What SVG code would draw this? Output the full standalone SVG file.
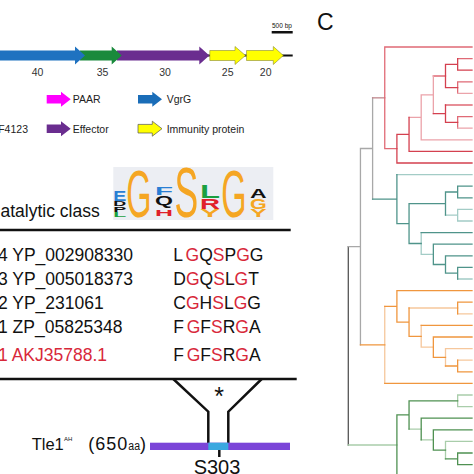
<svg xmlns="http://www.w3.org/2000/svg" width="474" height="474" viewBox="0 0 474 474">
<style>
text{font-family:"Liberation Sans",Arial,sans-serif;fill:#111}
.num{font-size:10.5px;fill:#333}
.leg{font-size:10.5px;fill:#222}
.big{font-size:17.5px}
.red{fill:#d8283a}
.lg{font-size:10px;font-weight:bold}
.lb{font-size:10px}
.tr path{fill:none;stroke-width:1.3;stroke-linecap:square}
.rd{stroke:#d4404f}.rm{stroke:#e06a76}.rl{stroke:#eba3aa}
.td{stroke:#4f948a}.tl{stroke:#a3ccc6}
.od{stroke:#f0963e}.ol{stroke:#f6c79c}
.gd{stroke:#4f9152}.gl{stroke:#a9cdaa}
.k1{stroke:#555}.k2{stroke:#a8a8a8}.km{stroke:#c0868c}
.blk{fill:none;stroke:#111;stroke-width:2.5}
</style>
<defs>
<path id="legArrow" d="M0,-4.3H14.3V-7.5L24,0L14.3,7.5V4.3H0Z"/>
</defs>

<g id="gene-map">
<path d="M205,55.5H292.7" stroke="#111" stroke-width="2"/>
<polygon points="117,50.5 199.3,50.5 199.3,46.5 209.3,55.5 199.3,64.5 199.3,60.5 117,60.5" fill="#6a2d8f"/>
<polygon points="80,50.5 111.7,50.5 111.7,46.5 121.7,55.5 111.7,64.5 111.7,60.5 80,60.5" fill="#1a8a3c"/>
<polygon points="0,50.5 75,50.5 75,46.5 85,55.5 75,64.5 75,60.5 0,60.5" fill="#1f72c0"/>
<polygon points="209.8,50.5 235,50.5 235,46.5 245.5,55.5 235,64.5 235,60.5 209.8,60.5" fill="#ffff00" stroke="#8a8a30" stroke-width="0.6"/>
<polygon points="246.5,50.5 273.3,50.5 273.3,46.5 283.3,55.5 273.3,64.5 273.3,60.5 246.5,60.5" fill="#ffff00" stroke="#8a8a30" stroke-width="0.6"/>
<text class="num" x="37.5" y="76" text-anchor="middle">40</text>
<text class="num" x="102.5" y="76" text-anchor="middle">35</text>
<text class="num" x="165" y="76" text-anchor="middle">30</text>
<text class="num" x="227.7" y="76" text-anchor="middle">25</text>
<text class="num" x="265.7" y="76" text-anchor="middle">20</text>
<text x="272" y="28" style="font-size:6.5px">500 bp</text>
<rect x="271.7" y="31" width="21" height="2.5" fill="#111"/>
</g>

<g id="legend">
<use href="#legArrow" x="46.7" y="99.2" fill="#ff00ff"/>
<text class="leg" x="72.7" y="103">PAAR</text>
<use href="#legArrow" x="138" y="99.2" fill="#1a6db8"/>
<text class="leg" x="166.7" y="103">VgrG</text>
<text class="leg" x="-1.8" y="132.5">F4123</text>
<use href="#legArrow" x="46.7" y="128.7" fill="#6a2d8f"/>
<text class="leg" x="72.7" y="132.5">Effector</text>
<use href="#legArrow" x="138" y="128.7" fill="#ffff00" stroke="#555" stroke-width="0.7"/>
<text class="leg" x="166.7" y="132.5">Immunity protein</text>
</g>

<g id="logo">
<text class="big" x="0.5" y="216.7">atalytic class</text>
<rect x="113.3" y="167" width="160" height="53" fill="#eceef3"/>
<text class="lg" transform="translate(113.3,201.3) scale(1.95,1.4)" style="fill:#2a7fd4">E</text>
<text class="lg" transform="translate(113.3,206.3) scale(1.8,0.7)">D</text>
<text class="lg" transform="translate(113.3,211.6) scale(1.95,0.75)">P</text>
<text class="lg" transform="translate(113.3,217) scale(2.13,0.75)" style="fill:#1aa040">L</text>
<text class="lb" transform="translate(126.2,217) scale(3.25,6.7)" style="fill:#f5a623">G</text>
<text class="lg" transform="translate(155,195.3) scale(2.95,1.16)" style="fill:#2a7fd4">F</text>
<text class="lg" transform="translate(155,205.3) scale(2.31,1.3)">Q</text>
<text class="lg" transform="translate(155,216) scale(2.49,0.98)" style="fill:#e0202a">H</text>
<text class="lb" transform="translate(174.5,217) scale(3.55,6.98)" style="fill:#f5a623">S</text>
<text class="lg" transform="translate(200,198) scale(3.27,1.77)" style="fill:#1aa040">L</text>
<text class="lg" transform="translate(200,208.7) scale(2.77,1.42)" style="fill:#e0202a">R</text>
<text class="lg" transform="translate(200,217) scale(3,1.05)" style="fill:#f5a623">Y</text>
<text class="lb" transform="translate(221.2,217) scale(3.25,6.7)" style="fill:#f5a623">G</text>
<text class="lg" transform="translate(250,198) scale(2.31,1.3)">A</text>
<text class="lg" transform="translate(250,208.7) scale(2.15,1.4)" style="fill:#f5a623">G</text>
<text class="lg" transform="translate(250,217) scale(2.5,1.12)" style="fill:#f5a623">Y</text>
</g>

<g id="table">
<path class="blk" d="M0,230H290.7"/>
<text class="big" x="-2" y="261">4 YP_002908330</text>
<text class="big" x="-2" y="285">3 YP_005018373</text>
<text class="big" x="-2" y="309">2 YP_231061</text>
<text class="big" x="-2" y="333">1 ZP_05825348</text>
<text class="big red" x="-2" y="361">1 AKJ35788.1</text>
<text class="big" x="173.3" y="261">L<tspan x="185.5" class="red">G</tspan>Q<tspan class="red">S</tspan>P<tspan class="red">G</tspan>G</text>
<text class="big" x="173.3" y="285">D<tspan class="red">G</tspan>Q<tspan class="red">S</tspan>L<tspan class="red">G</tspan>T</text>
<text class="big" x="173.3" y="309">C<tspan class="red">G</tspan>H<tspan class="red">S</tspan>L<tspan class="red">G</tspan>G</text>
<text class="big" x="173.3" y="333">F<tspan x="186.7" class="red">G</tspan>F<tspan class="red">S</tspan>R<tspan class="red">G</tspan>A</text>
<text class="big" x="173.3" y="361">F<tspan x="186.7" class="red">G</tspan>F<tspan class="red">S</tspan>R<tspan class="red">G</tspan>A</text>
<path class="blk" d="M0,379H296.7"/>
</g>

<g id="domain">
<path class="blk" d="M173.3,379L208.3,411.7V443M261.7,379L228.3,411.7V443"/>
<text x="219" y="405" text-anchor="middle" style="font-size:25px">*</text>
<text x="31.7" y="450" style="font-size:16.5px">Tle1</text>
<text x="64" y="440.7" style="font-size:6px">AH</text>
<text x="88.3" y="450" style="font-size:18px" textLength="39" lengthAdjust="spacing">(650</text>
<text x="128.3" y="450" style="font-size:12.5px" textLength="11.7" lengthAdjust="spacingAndGlyphs">aa</text>
<text x="140" y="450" style="font-size:18px">)</text>
<rect x="150" y="442.7" width="140" height="7.3" fill="#7b45d8"/>
<rect x="208.3" y="442.7" width="20" height="7.3" fill="#3aa8e0"/>
<path d="M219.3,450V457" stroke="#111" stroke-width="2.5"/>
<text x="217" y="473.6" text-anchor="middle" style="font-size:20px">S303</text>
</g>

<g id="panel-c">
<text x="317" y="30" style="font-size:23px">C</text>
</g>

<g id="tree" class="tr">
<path class="k1" d="M348.3,246.7V445"/>
<path class="k2" d="M348.3,246.7H360.45M360.45,148.5V344.9M360.45,148.5H372.6M372.6,97.85V199.1"/>
<path class="km" d="M372.6,97.85H384.75"/>
<path class="rm" d="M384.75,47V148.7M384.75,47H472M384.75,148.7H396.9M433.35,76H445.5M457.65,58.6H472M457.65,81.8V93.4M457.65,81.8H472M445.5,105H472M457.65,116.6V128.2M457.65,116.6H472"/>
<path class="rl" d="M409.05,117.3H421.2M421.2,94.85V139.8M421.2,139.8H472M421.2,94.85H433.35M433.35,76V113.7M457.65,93.4H472M457.65,128.2H472"/>
<path class="rd" d="M396.9,134.35V163M396.9,163H472M396.9,134.35H409.05M409.05,117.3V151.4M409.05,151.4H472M445.5,64.4V87.6M445.5,64.4H457.65M457.65,58.6V70.2M457.65,70.2H472M433.35,113.7H445.5M445.5,105V122.4M445.5,122.4H457.65M445.5,87.6H457.65"/>
<path class="tl" d="M396.9,174.6H472M445.5,215.2H457.65M457.65,209.4V221M457.65,209.4H472M457.65,221H472M421.2,232.6V254.35M421.2,254.35H433.35M457.65,279H472"/>
<path class="td" d="M372.6,199.1H396.9M396.9,174.6V223.55M396.9,223.55H409.05M409.05,203.6V243.5M409.05,203.6H445.5M445.5,192V215.2M445.5,192H457.65M457.65,186.2V197.8M457.65,186.2H472M457.65,197.8H472M409.05,243.5H421.2M421.2,232.6H472M433.35,244.2V264.5M433.35,244.2H472M433.35,264.5H445.5M445.5,255.8V273.2M445.5,255.8H472M445.5,273.2H457.65M457.65,267.4V279M457.65,267.4H472"/>
<path class="ol" d="M384.75,306.4V383.4M409.05,308H457.65M457.65,313.8H472M421.2,325.4V347.15M421.2,347.15H433.35M445.5,348.6V366M445.5,348.6H472M457.65,360.2H472"/>
<path class="od" d="M360.45,344.9H384.75M384.75,383.4H472M384.75,306.4H396.9M396.9,290.6V322.15M396.9,290.6H472M396.9,322.15H409.05M409.05,308V336.3M457.65,302.2V313.8M457.65,302.2H472M409.05,336.3H421.2M421.2,325.4H472M433.35,337V357.3M433.35,337H472M433.35,357.3H445.5M445.5,366H457.65M457.65,360.2V371.8M457.65,371.8H472"/>
<path class="gl" d="M348.3,445H396.9M457.65,395V406.6M457.65,395H472M457.65,406.6H472M409.05,429.1H421.2M421.2,439.95H433.35M445.5,441.4V458.8M445.5,441.4H472"/>
<path class="gd" d="M396.9,414.95V476M396.9,414.95H409.05M409.05,400.8V429.1M409.05,400.8H457.65M421.2,418.2V439.95M421.2,418.2H472M433.35,429.8V450.1M433.35,429.8H472M433.35,450.1H445.5M445.5,458.8H457.65M457.65,453V464.6M457.65,453H472M457.65,464.6H472"/>
</g>
</svg>
